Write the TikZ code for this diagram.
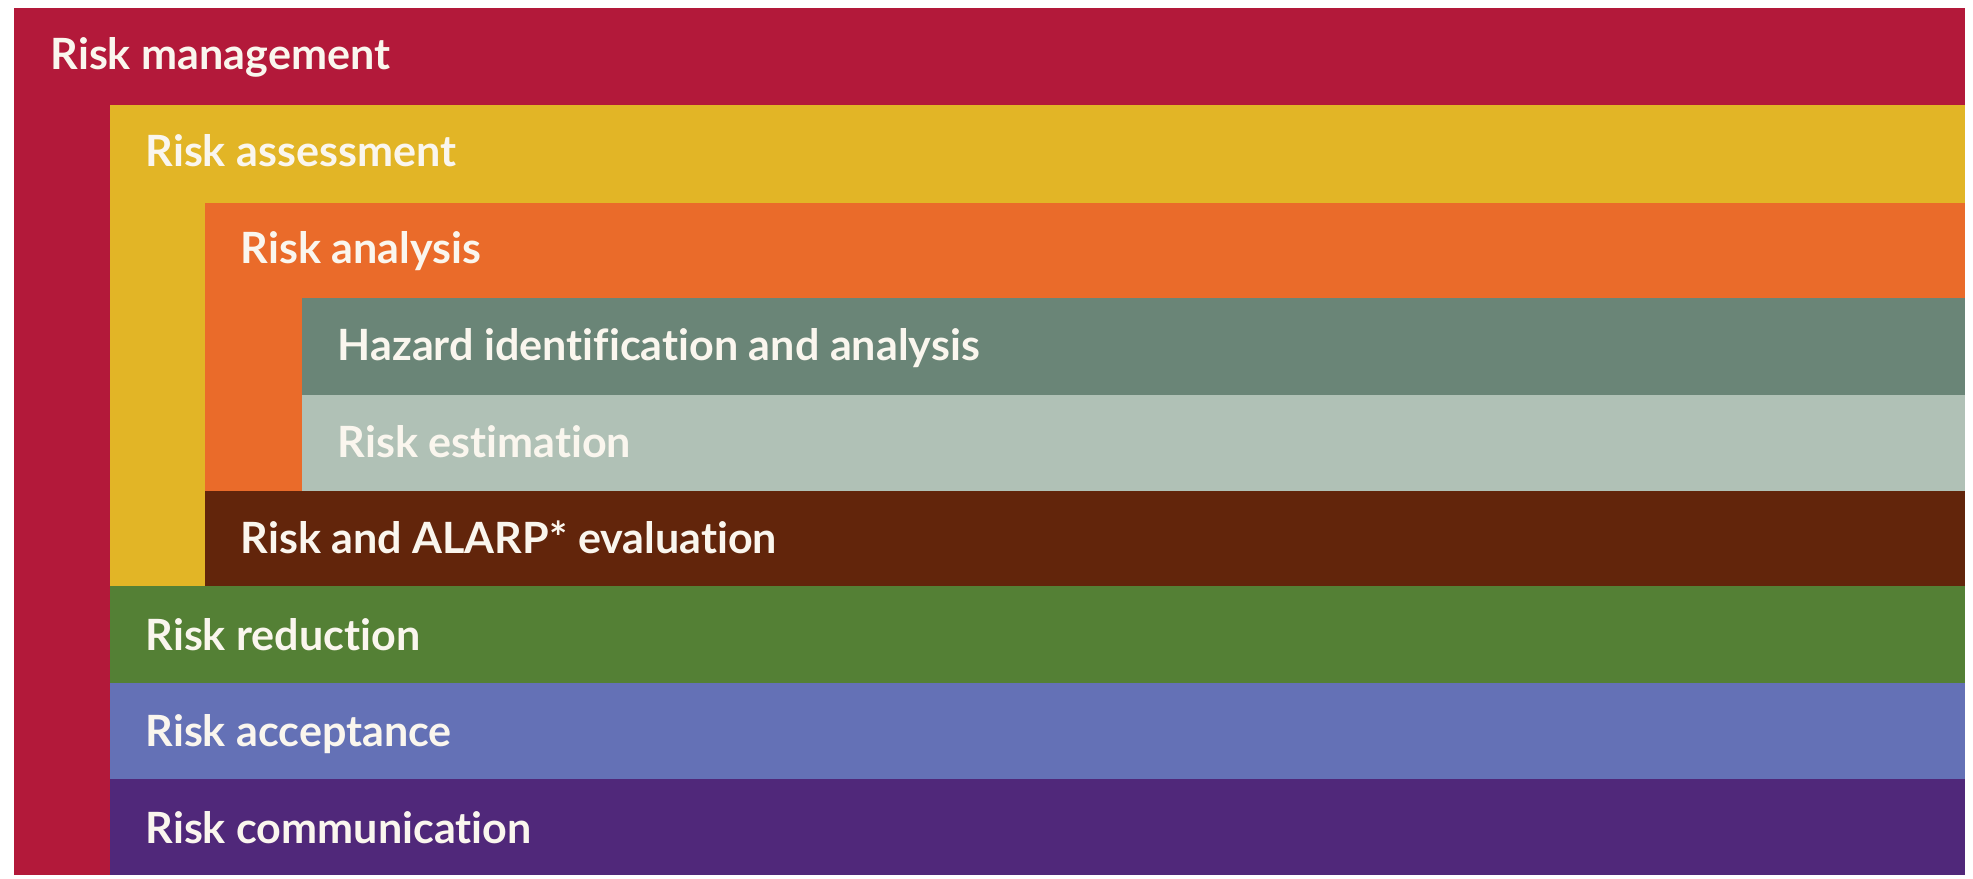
\documentclass[tikz,border=0pt]{standalone}
\usepackage{fontspec}
\setmainfont{Lato}[UprightFont=* Bold, Ligatures=NoCommon]
\definecolor{cRed}{HTML}{B3193A}
\definecolor{cYellow}{HTML}{E2B526}
\definecolor{cOrange}{HTML}{EA6B2A}
\definecolor{cHazard}{HTML}{6A8577}
\definecolor{cEstim}{HTML}{B0C1B6}
\definecolor{cBrown}{HTML}{62250B}
\definecolor{cGreen}{HTML}{548035}
\definecolor{cBlue}{HTML}{6471B6}
\definecolor{cPurple}{HTML}{50287A}
\definecolor{cText}{HTML}{FAF6EE}
\tikzset{
  lbl/.style={anchor=base west, inner sep=0pt, text=cText, font=\fontsize{12.25}{14}\selectfont}
}
\begin{document}
\begin{tikzpicture}[x=0.01cm,y=-0.01cm]
\useasboundingbox (0,0) rectangle (1973,879);
\fill[white] (0,0) rectangle (1973,879);
\fill[cRed] (14,8) rectangle (1965,875);
\fill[cYellow] (110,105) rectangle (1965,586);
\fill[cOrange] (205,203) rectangle (1965,491);
\fill[cHazard] (302,298) rectangle (1965,395);
\fill[cEstim] (302,395) rectangle (1965,491);
\fill[cBrown] (205,491) rectangle (1965,586);
\fill[cGreen] (110,586) rectangle (1965,683);
\fill[cBlue] (110,683) rectangle (1965,779);
\fill[cPurple] (110,779) rectangle (1965,875);
\node[lbl] (tMan) at (50,70) {Risk management};
\node[lbl] (tAss) at (145,167) {Risk assessment};
\node[lbl] (tAna) at (240,264) {Risk analysis};
\node[lbl] (tHaz) at (337,360) {Hazard identification and analysis};
\node[lbl] (tEst) at (337,457) {Risk estimation};
\node[lbl] (tAla) at (240,553) {Risk and ALARP* evaluation};
\node[lbl] (tRed) at (145,650) {Risk reduction};
\node[lbl] (tAcc) at (145,746) {Risk acceptance};
\node[lbl] (tCom) at (145,843) {Risk communication};
\end{tikzpicture}
\end{document}
